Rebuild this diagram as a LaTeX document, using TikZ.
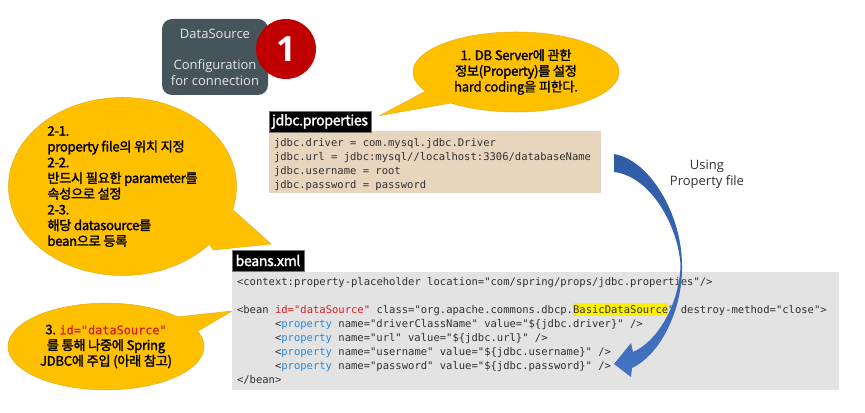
\documentclass[tikz,border=0pt]{standalone}
\usepackage{fontspec}
\usepackage{xcolor}
\usetikzlibrary{shapes.geometric}
\setmainfont{Open Sans}
\newfontfamily\krfont[FakeBold=1.8,LetterSpace=-2.5]{Noto Sans CJK KR}
\newfontfamily\krlight[FakeBold=0.6,LetterSpace=-2.5]{Noto Sans CJK KR}
\newfontfamily\codefont{DejaVu Sans Mono}
\newfontfamily\codebold[FakeBold=0.8]{DejaVu Sans Mono}
\definecolor{callout}{HTML}{FFC000}
\definecolor{calloutedge}{HTML}{E6AE10}
\definecolor{slate}{HTML}{45555B}
\definecolor{badge}{HTML}{C00000}
\definecolor{beige}{HTML}{E8D5BE}
\definecolor{codegrey}{HTML}{E3E3E3}
\definecolor{codeink}{HTML}{303030}
\definecolor{propblue}{HTML}{2E86D0}
\definecolor{idred}{HTML}{D02028}
\definecolor{arrowtop}{HTML}{2F5CA3}
\definecolor{arrowbot}{HTML}{4472C4}
\newcommand{\hl}[1]{{\setlength{\fboxsep}{0pt}\colorbox{yellow}{\rule[-2.2pt]{0pt}{9.8pt}#1}}}
\newcommand{\prp}{\textcolor{propblue}{property}}
\newcommand{\codesp}{\spaceskip=4.756pt\relax}
\tikzset{
  bubble/.style={ellipse,fill=callout,draw=calloutedge,line width=.4pt,inner sep=0pt},
  bubbletext/.style={inner sep=0pt,text=black,font=\krfont\fontsize{9.9pt}{11.8pt}\selectfont},
  tail/.style={fill=callout,draw=none},
  tailedge/.style={draw=calloutedge,line width=.4pt},
  tab/.style={fill=black,text=white,inner sep=0pt,draw=black!55,line width=.3pt,
    font=\krfont\fontsize{10.6pt}{13pt}\selectfont},
  codebox/.style={inner xsep=3.75pt,inner ysep=0pt,align=left,text=codeink,
    font=\codefont\fontsize{7.9pt}{10.5pt}\selectfont},
  plain/.style={align=center,inner sep=0pt,text=codeink,font=\fontsize{9.75pt}{12pt}\selectfont}
}
\begin{document}
\begin{tikzpicture}[x=.75pt,y=-.75pt]
\useasboundingbox (0,0) rectangle (865,413);

\node[fill=slate,rounded corners=7.5pt,minimum width=79.5pt,minimum height=57pt,inner sep=0pt,align=center,
  text=white!90!black,font=\fontsize{9.75pt}{11.8pt}\selectfont] (ds) at (215,57) {DataSource\\[11.8pt]Configuration\\for connection};
\node[circle,fill=badge,minimum size=45pt,inner sep=0pt,text=white,font=\bfseries\fontsize{26pt}{26pt}\selectfont] (one) at (286,49) {1};

\node[bubble,minimum width=154.5pt,minimum height=60pt] (c1) at (516,72) {};
\coordinate (c1tip) at (380,115.5);
\coordinate (c1a) at (426,91);
\coordinate (c1b) at (451,103);
\fill[tail] (c1a) -- (c1tip) -- (c1b) -- (470,80) -- cycle;
\draw[tailedge] (c1a) -- (c1tip) -- (c1b);
\node[bubbletext,align=center] (t1) at (c1.center)
  {1. DB Server에 관한\\정보(Property)를 설정\\{\krlight hard coding을 피한다.}};

\node[bubble,minimum width=171pt,minimum height=133.5pt] (c2) at (122.5,186.5) {};
\coordinate (c2tip) at (271,244);
\coordinate (c2a) at (233,210);
\coordinate (c2b) at (213,250);
\fill[tail] (c2a) -- (c2tip) -- (c2b) -- (190,220) -- cycle;
\draw[tailedge] (c2a) -- (c2tip) -- (c2b);
\node[bubbletext,align=left] (t2) at (c2.center)
  {2-1.\\property file의 위치 지정\\2-2.\\반드시 필요한 parameter를\\속성으로 설정\\2-3.\\해당 datasource를\\bean으로 등록};

\node[bubble,minimum width=147pt,minimum height=65pt] (c3) at (106,346.5) {};
\coordinate (c3tip) at (232,311);
\coordinate (c3a) at (177,317);
\coordinate (c3b) at (198,331);
\fill[tail] (c3a) -- (c3tip) -- (c3b) -- (170,340) -- cycle;
\draw[tailedge] (c3a) -- (c3tip) -- (c3b);
\node[bubbletext,align=center] (t3) at (c3.center)
  {3. {\codebold\fontsize{8.9pt}{11.8pt}\selectfont\color{idred}id="dataSource"}\\를 통해 나중에 Spring\\JDBC에 주입 (아래 참고)};

\node[codebox,fill=beige,text width=241.5pt,minimum height=46.5pt] (props) at (435,162)
  {\codesp\rule{0pt}{9.7pt}jdbc.driver = com.mysql.jdbc.Driver\\
   jdbc.url = jdbc:mysql//localhost:3306/databaseName\\
   jdbc.username = root\\
   jdbc.password = password};
\node[tab,minimum width=76.5pt,minimum height=15.75pt] (ptab) at (320,121.5) {jdbc.properties};

\node[codebox,fill=codegrey,text width=447.75pt,minimum height=88.5pt] (beans) at (535.5,331)
  {\codesp <context:property-placeholder location="com/spring/props/jdbc.properties"/>\\
   \mbox{}\\
   <bean \textcolor{idred}{id="dataSource"} class="org.apache.commons.dbcp.\hl{BasicDataSource}" destroy-method="close">\\
   \hspace*{28.5pt}<\prp{} name="driverClassName" value="\$\{jdbc.driver\}" />\\
   \hspace*{28.5pt}<\prp{} name="url" value="\$\{jdbc.url\}" />\\
   \hspace*{28.5pt}<\prp{} name="username" value="\$\{jdbc.username\}" />\\
   \hspace*{28.5pt}<\prp{} name="password" value="\$\{jdbc.password\}" />\\
   </bean>};
\node[tab,minimum width=54pt,minimum height=15.75pt] (btab) at (268,260.5) {beans.xml};

\node[plain] (using) at (707,174) {Using\\Property file};

\coordinate (arrowstart) at (614,154);
\coordinate (arrowtip) at (614,364);
\shade[top color=arrowtop,bottom color=arrowbot]
  (arrowstart) .. controls (650,160) and (682,215) .. (682,265)
  .. controls (683,310) and (660,355) .. (632,368)
  -- (631,377) -- (arrowtip) -- (631,343) -- (633,352)
  .. controls (660,340) and (680,300) .. (680.5,265)
  .. controls (678,225) and (650,176) .. (614,172) -- cycle;
\end{tikzpicture}
\end{document}
